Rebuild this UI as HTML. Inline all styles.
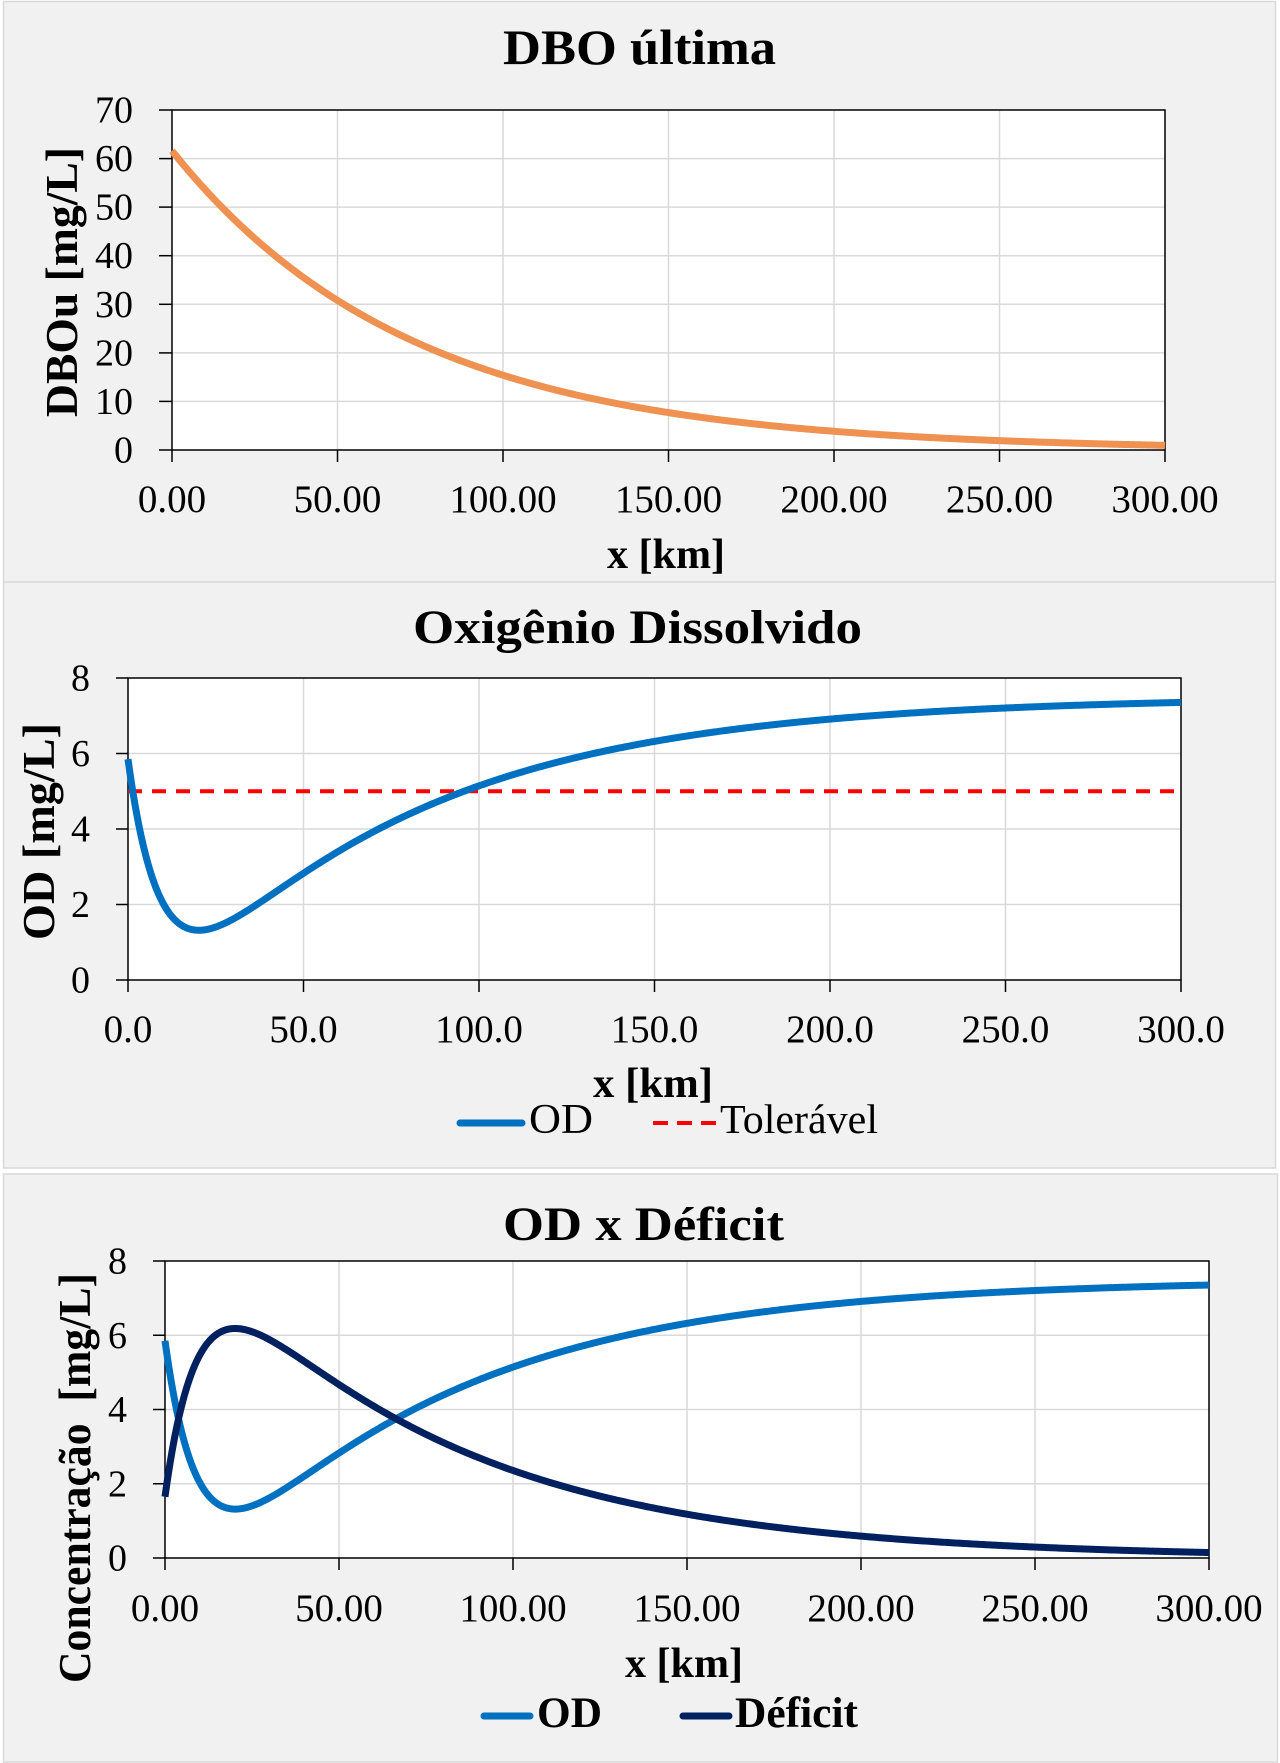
<!DOCTYPE html>
<html>
<head>
<meta charset="utf-8">
<style>
html,body{margin:0;padding:0;background:#fff;}
svg{display:block;}
text{font-family:"Liberation Serif","DejaVu Serif",serif;fill:#000;}
.t{font-size:38px;}
.b{font-weight:bold;}
</style>
</head>
<body>
<svg width="1280" height="1763" viewBox="0 0 1280 1763" xmlns="http://www.w3.org/2000/svg">
<!-- Panels -->
<rect x="3.5" y="1.5" width="1272" height="580.5" fill="#f1f1f1" stroke="#d9d9d9" stroke-width="1.5"/>
<rect x="3.5" y="582" width="1272" height="586" fill="#f1f1f1" stroke="#d9d9d9" stroke-width="1.5"/>
<rect x="3.5" y="1174" width="1274" height="588" fill="#f1f1f1" stroke="#d9d9d9" stroke-width="1.5"/>

<!-- ============ CHART 1 ============ -->
<text x="503" y="64" font-size="50" class="b" textLength="273" lengthAdjust="spacingAndGlyphs">DBO última</text>
<rect x="172" y="110" width="993" height="340" fill="#fff"/>
<g stroke="#d9d9d9" stroke-width="1.5">
<line x1="172" y1="401.4" x2="1165" y2="401.4"/>
<line x1="172" y1="352.9" x2="1165" y2="352.9"/>
<line x1="172" y1="304.3" x2="1165" y2="304.3"/>
<line x1="172" y1="255.7" x2="1165" y2="255.7"/>
<line x1="172" y1="207.1" x2="1165" y2="207.1"/>
<line x1="172" y1="158.6" x2="1165" y2="158.6"/>
<line x1="337.5" y1="110" x2="337.5" y2="450"/>
<line x1="503" y1="110" x2="503" y2="450"/>
<line x1="668.5" y1="110" x2="668.5" y2="450"/>
<line x1="834" y1="110" x2="834" y2="450"/>
<line x1="999.5" y1="110" x2="999.5" y2="450"/>
</g>
<rect x="172" y="110" width="993" height="340" fill="none" stroke="#000" stroke-width="1.5"/>
<g stroke="#000" stroke-width="1.5">
<line x1="159" y1="110" x2="172" y2="110"/>
<line x1="159" y1="158.6" x2="172" y2="158.6"/>
<line x1="159" y1="207.1" x2="172" y2="207.1"/>
<line x1="159" y1="255.7" x2="172" y2="255.7"/>
<line x1="159" y1="304.3" x2="172" y2="304.3"/>
<line x1="159" y1="352.9" x2="172" y2="352.9"/>
<line x1="159" y1="401.4" x2="172" y2="401.4"/>
<line x1="159" y1="450" x2="172" y2="450"/>
<line x1="172" y1="450" x2="172" y2="462"/>
<line x1="337.5" y1="450" x2="337.5" y2="462"/>
<line x1="503" y1="450" x2="503" y2="462"/>
<line x1="668.5" y1="450" x2="668.5" y2="462"/>
<line x1="834" y1="450" x2="834" y2="462"/>
<line x1="999.5" y1="450" x2="999.5" y2="462"/>
<line x1="1165" y1="450" x2="1165" y2="462"/>
</g>
<g class="t" text-anchor="end">
<text x="133" y="122.5">70</text>
<text x="133" y="171.1">60</text>
<text x="133" y="219.6">50</text>
<text x="133" y="268.2">40</text>
<text x="133" y="316.8">30</text>
<text x="133" y="365.4">20</text>
<text x="133" y="413.9">10</text>
<text x="133" y="462.5">0</text>
</g>
<g text-anchor="middle" font-size="39">
<text x="172" y="512">0.00</text>
<text x="337.5" y="512">50.00</text>
<text x="503" y="512">100.00</text>
<text x="668.5" y="512">150.00</text>
<text x="834" y="512">200.00</text>
<text x="999.5" y="512">250.00</text>
<text x="1165" y="512">300.00</text>
</g>
<text x="607" y="568" font-size="42" class="b" textLength="118" lengthAdjust="spacingAndGlyphs">x [km]</text>
<text transform="translate(77,417) rotate(-90)" font-size="45" class="b" textLength="270" lengthAdjust="spacingAndGlyphs">DBOu [mg/L]</text>
<polyline id="c1" fill="none" stroke="#ef9150" stroke-width="7" stroke-linejoin="round" points="172,150.8 205.1,189.5 238.2,223.3 271.3,252.6 304.4,278.2 337.5,300.4 370.6,319.8 403.7,336.6 436.8,351.3 469.9,364.1 503,375.2 536.1,384.9 569.2,393.3 602.3,400.7 635.4,407 668.5,412.6 701.6,417.4 734.7,421.7 767.8,425.3 800.9,428.5 834,431.3 900.2,435.8 966.4,439.3 1032.6,441.9 1098.8,443.8 1165,445.3"/>

<!-- ============ CHART 2 ============ -->
<text x="413" y="643" font-size="48" class="b" textLength="449" lengthAdjust="spacingAndGlyphs">Oxigênio Dissolvido</text>
<rect x="128" y="678" width="1053" height="302" fill="#fff"/>
<g stroke="#d9d9d9" stroke-width="1.5">
<line x1="128" y1="904.5" x2="1181" y2="904.5"/>
<line x1="128" y1="829" x2="1181" y2="829"/>
<line x1="128" y1="753.5" x2="1181" y2="753.5"/>
<line x1="303.5" y1="678" x2="303.5" y2="980"/>
<line x1="479" y1="678" x2="479" y2="980"/>
<line x1="654.5" y1="678" x2="654.5" y2="980"/>
<line x1="830" y1="678" x2="830" y2="980"/>
<line x1="1005.5" y1="678" x2="1005.5" y2="980"/>
</g>
<rect x="128" y="678" width="1053" height="302" fill="none" stroke="#000" stroke-width="1.5"/>
<g stroke="#000" stroke-width="1.5">
<line x1="116" y1="678" x2="128" y2="678"/>
<line x1="116" y1="753.5" x2="128" y2="753.5"/>
<line x1="116" y1="829" x2="128" y2="829"/>
<line x1="116" y1="904.5" x2="128" y2="904.5"/>
<line x1="116" y1="980" x2="128" y2="980"/>
<line x1="128" y1="980" x2="128" y2="992"/>
<line x1="303.5" y1="980" x2="303.5" y2="992"/>
<line x1="479" y1="980" x2="479" y2="992"/>
<line x1="654.5" y1="980" x2="654.5" y2="992"/>
<line x1="830" y1="980" x2="830" y2="992"/>
<line x1="1005.5" y1="980" x2="1005.5" y2="992"/>
<line x1="1181" y1="980" x2="1181" y2="992"/>
</g>
<g class="t" text-anchor="end">
<text x="90" y="690.5">8</text>
<text x="90" y="766">6</text>
<text x="90" y="841.5">4</text>
<text x="90" y="917">2</text>
<text x="90" y="992.5">0</text>
</g>
<g text-anchor="middle" font-size="39">
<text x="128" y="1042">0.0</text>
<text x="303.5" y="1042">50.0</text>
<text x="479" y="1042">100.0</text>
<text x="654.5" y="1042">150.0</text>
<text x="830" y="1042">200.0</text>
<text x="1005.5" y="1042">250.0</text>
<text x="1181" y="1042">300.0</text>
</g>
<text x="593" y="1097" font-size="42" class="b" textLength="120" lengthAdjust="spacingAndGlyphs">x [km]</text>
<text transform="translate(54,940) rotate(-90)" font-size="45" class="b" textLength="217" lengthAdjust="spacingAndGlyphs">OD [mg/L]</text>
<line x1="128" y1="791.25" x2="1181" y2="791.25" stroke="#ff0000" stroke-width="4" stroke-dasharray="14 10"/>
<polyline id="c2" fill="none" stroke="#0070c0" stroke-width="7" stroke-linejoin="round" points="128,759.2 131.5,783.4 135,804.8 138.5,823.6 142,840.2 145.6,854.7 149.1,867.4 156.1,888.1 163.1,903.4 170.1,914.4 177.1,922 184.2,926.8 191.2,929.4 198.2,930.2 205.2,929.7 215.8,927 226.3,922.5 240.3,914.9 254.4,906.1 268.4,896.8 286,884.9 303.5,873.3 338.6,851.3 373.7,831.6 408.8,814.2 443.9,799.1 479,785.9 549.2,764.3 619.4,748 689.6,735.6 759.8,726.2 830,719.1 900.2,713.7 970.4,709.6 1040.6,706.6 1110.8,704.2 1181,702.4"/>
<!-- legend -->
<line x1="460" y1="1123" x2="522" y2="1123" stroke="#0070c0" stroke-width="7" stroke-linecap="round"/>
<text x="529" y="1133" font-size="42" textLength="64" lengthAdjust="spacingAndGlyphs">OD</text>
<line x1="653" y1="1123" x2="716" y2="1123" stroke="#ff0000" stroke-width="4" stroke-dasharray="15 9"/>
<text x="720" y="1133" font-size="41" textLength="158" lengthAdjust="spacingAndGlyphs">Tolerável</text>

<!-- ============ CHART 3 ============ -->
<text x="503" y="1240" font-size="48" class="b" textLength="281" lengthAdjust="spacingAndGlyphs">OD x Déficit</text>
<rect x="165" y="1261" width="1044" height="297" fill="#fff"/>
<g stroke="#d9d9d9" stroke-width="1.5">
<line x1="165" y1="1483.75" x2="1209" y2="1483.75"/>
<line x1="165" y1="1409.5" x2="1209" y2="1409.5"/>
<line x1="165" y1="1335.25" x2="1209" y2="1335.25"/>
<line x1="339" y1="1261" x2="339" y2="1558"/>
<line x1="513" y1="1261" x2="513" y2="1558"/>
<line x1="687" y1="1261" x2="687" y2="1558"/>
<line x1="861" y1="1261" x2="861" y2="1558"/>
<line x1="1035" y1="1261" x2="1035" y2="1558"/>
</g>
<rect x="165" y="1261" width="1044" height="297" fill="none" stroke="#000" stroke-width="1.5"/>
<g stroke="#000" stroke-width="1.5">
<line x1="153" y1="1261" x2="165" y2="1261"/>
<line x1="153" y1="1335.25" x2="165" y2="1335.25"/>
<line x1="153" y1="1409.5" x2="165" y2="1409.5"/>
<line x1="153" y1="1483.75" x2="165" y2="1483.75"/>
<line x1="153" y1="1558" x2="165" y2="1558"/>
<line x1="165" y1="1558" x2="165" y2="1570"/>
<line x1="339" y1="1558" x2="339" y2="1570"/>
<line x1="513" y1="1558" x2="513" y2="1570"/>
<line x1="687" y1="1558" x2="687" y2="1570"/>
<line x1="861" y1="1558" x2="861" y2="1570"/>
<line x1="1035" y1="1558" x2="1035" y2="1570"/>
<line x1="1209" y1="1558" x2="1209" y2="1570"/>
</g>
<g class="t" text-anchor="end">
<text x="127" y="1273.5">8</text>
<text x="127" y="1347.75">6</text>
<text x="127" y="1422">4</text>
<text x="127" y="1496.25">2</text>
<text x="127" y="1570.5">0</text>
</g>
<g text-anchor="middle" font-size="39">
<text x="165" y="1621">0.00</text>
<text x="339" y="1621">50.00</text>
<text x="513" y="1621">100.00</text>
<text x="687" y="1621">150.00</text>
<text x="861" y="1621">200.00</text>
<text x="1035" y="1621">250.00</text>
<text x="1209" y="1621">300.00</text>
</g>
<text x="625" y="1677" font-size="42" class="b" textLength="118" lengthAdjust="spacingAndGlyphs">x [km]</text>
<text transform="translate(90,1683) rotate(-90)" font-size="45" class="b" textLength="410" lengthAdjust="spacingAndGlyphs" xml:space="preserve">Concentração  [mg/L]</text>
<polyline id="c3a" fill="none" stroke="#0070c0" stroke-width="7" stroke-linejoin="round" points="165,1340.8 168.5,1364.6 172,1385.7 175.4,1404.2 178.9,1420.6 182.4,1434.8 185.9,1447.3 192.8,1467.6 199.8,1482.6 206.8,1493.5 213.7,1500.9 220.7,1505.7 227.6,1508.3 234.6,1509.1 241.6,1508.5 252,1505.9 262.4,1501.5 276.4,1494 290.3,1485.3 304.2,1476.2 321.6,1464.5 339,1453 373.8,1431.4 408.6,1412 443.4,1395 478.2,1380.1 513,1367.1 582.6,1345.9 652.2,1329.8 721.8,1317.7 791.4,1308.4 861,1301.4 930.6,1296.2 1000.2,1292.1 1069.8,1289.1 1139.4,1286.8 1209,1285"/>
<polyline id="c3b" fill="none" stroke="#002060" stroke-width="7" stroke-linejoin="round" points="165,1496.7 168.5,1472.9 172,1451.9 175.4,1433.3 178.9,1417 182.4,1402.7 185.9,1390.3 192.8,1370 199.8,1354.9 206.8,1344.1 213.7,1336.6 220.7,1331.9 227.6,1329.3 234.6,1328.5 241.6,1329 252,1331.7 262.4,1336.1 276.4,1343.6 290.3,1352.2 304.2,1361.3 321.6,1373 339,1384.5 373.8,1406.2 408.6,1425.5 443.4,1442.6 478.2,1457.5 513,1470.5 582.6,1491.7 652.2,1507.7 721.8,1519.9 791.4,1529.1 861,1536.1 930.6,1541.4 1000.2,1545.5 1069.8,1548.5 1139.4,1550.8 1209,1552.5"/>
<!-- legend -->
<line x1="484" y1="1716" x2="530" y2="1716" stroke="#0070c0" stroke-width="7" stroke-linecap="round"/>
<text x="537" y="1727" font-size="43" class="b" textLength="65" lengthAdjust="spacingAndGlyphs">OD</text>
<line x1="683" y1="1716" x2="729" y2="1716" stroke="#002060" stroke-width="7" stroke-linecap="round"/>
<text x="735" y="1727" font-size="43" class="b" textLength="123" lengthAdjust="spacingAndGlyphs">Déficit</text>
</svg>
<script>
(function(){
  function pts(f,x0,sx,y0,sy){
    var a=[];
    for(var i=0;i<=600;i++){var x=i*0.5;a.push((x0+sx*x).toFixed(2)+','+(y0-sy*f(x)).toFixed(2));}
    return a.join(' ');
  }
  var dbo=function(x){return 61.6*Math.pow(2,-x/50);};
  var def=function(x){return 9.43*Math.pow(2,-x/50)-7.78*Math.exp(-0.1044*x);};
  var od=function(x){return 7.5-def(x);};
  try{
    document.getElementById('c1').setAttribute('points',pts(dbo,172,3.31,450,4.857));
    document.getElementById('c2').setAttribute('points',pts(od,128,3.51,980,37.75));
    document.getElementById('c3a').setAttribute('points',pts(od,165,3.48,1558,37.125));
    document.getElementById('c3b').setAttribute('points',pts(def,165,3.48,1558,37.125));
  }catch(e){}
})();
</script>
</body>
</html>
